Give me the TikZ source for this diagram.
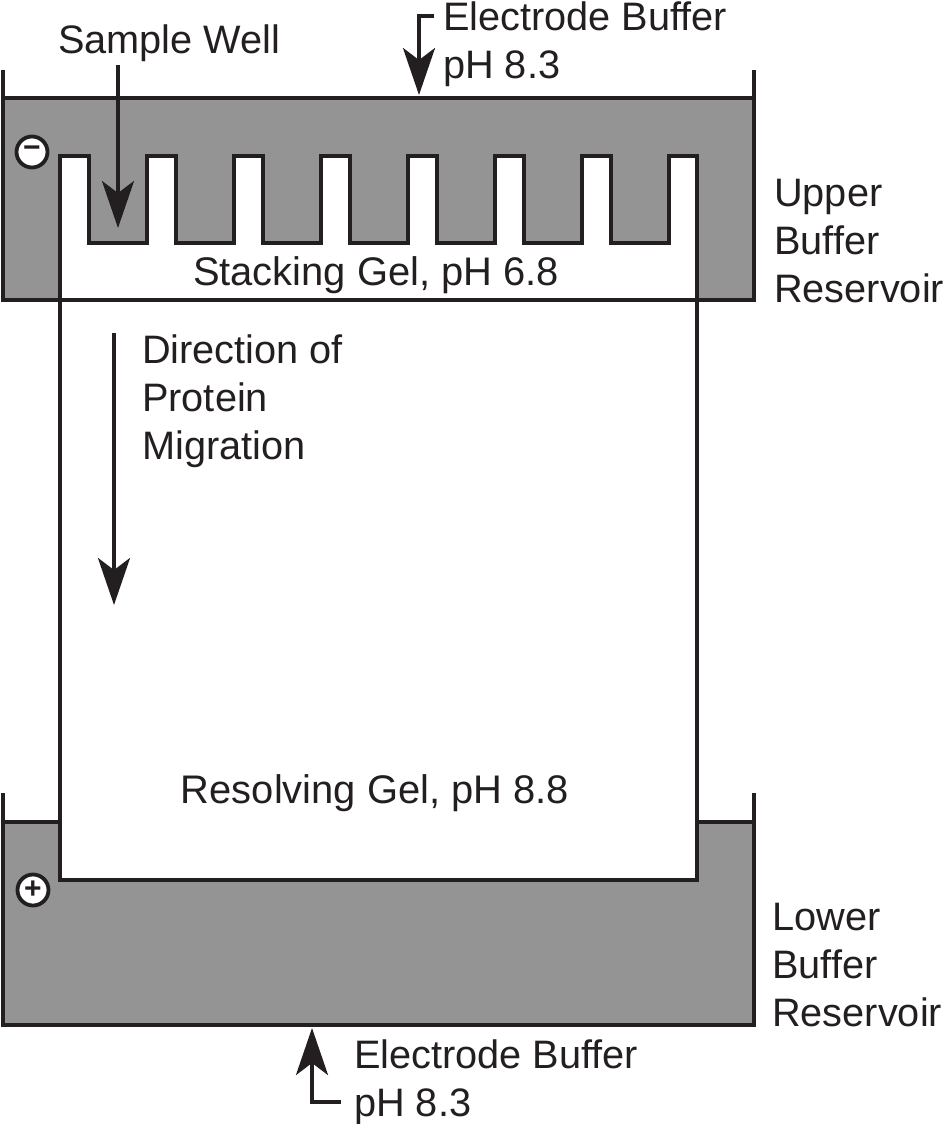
\documentclass[tikz,border=0pt]{standalone}
\usepackage{fontspec}
\setmainfont{Liberation Sans}
\usetikzlibrary{arrows.meta}
\definecolor{ink}{HTML}{231F20}
\definecolor{buffer}{HTML}{949494}
\tikzset{
  wall/.style={draw=ink,line width=4pt,line cap=butt,line join=miter},
  thinwall/.style={draw=ink,line width=3.4pt},
  label/.style={anchor=base west,inner sep=0pt,text=ink,align=left,font=\fontsize{39.7}{48}\selectfont},
  gellabel/.style={anchor=base,inner sep=0pt,text=ink,font=\fontsize{39.9}{48}\selectfont},
  pointer/.style={draw=ink,line width=3.6pt,-{Stealth[length=47pt,width=32pt,inset=12pt]}},
  pole/.style={circle,draw=ink,line width=3.8pt,fill=white,minimum size=31pt,inner sep=0pt,text=ink,font=\fontsize{30}{30}\bfseries\selectfont}
}

\begin{document}
\begin{tikzpicture}[x=1pt,y=-1pt]
\useasboundingbox (0,0) rectangle (944,1124);

% buffer tanks
\draw[wall,fill=buffer] (3,98) rectangle (754,300);
\draw[wall,fill=buffer] (3,822) rectangle (754,1025);
\draw[thinwall] (3,70) -- (3,98);
\draw[thinwall] (754,70) -- (754,98);
\draw[thinwall] (3,793) -- (3,822);
\draw[thinwall] (754,793) -- (754,822);

% gel with its comb of wells
\draw[wall,fill=white] (60,880) -- (60,156)
  \foreach \x in {0,87,174,261,348,435,522} {
    -- (\x+89,156) -- (\x+89,243) -- (\x+147,243) -- (\x+147,156)
  }
  -- (697,156) -- (697,880) -- cycle;
\draw[wall] (3,300) -- (754,300);

\node [pole] (minus) at (32,152) {−};
\node [pole] (plus) at (33,890) {+};

\node [label] (well) at (58,53) {Sample Well};
\node [label] (topbuffer) at (443,78) {Electrode Buffer\\pH 8.3};
\node [label] (upper) at (774,302) {Upper\\Buffer\\Reservoir};
\node [gellabel] (stacking) at (376,285) {Stacking Gel, pH 6.8};
\node [label] (direction) at (142,459) {Direction of\\Protein\\Migration};
\node [gellabel] (resolving) at (375,803) {Resolving Gel, pH 8.8};
\node [label] (lower) at (772,1026) {Lower\\Buffer\\Reservoir};
\node [label] (lowbuffer) at (354,1116) {Electrode Buffer\\pH 8.3};

\coordinate (wellstart) at (118,65);
\coordinate (welltip) at (118,228);
\coordinate (topstart) at (434,16);
\coordinate (topbend) at (419,16);
\coordinate (toptip) at (419,95);
\coordinate (migstart) at (114,333);
\coordinate (migtip) at (114,605);
\coordinate (lowstart) at (341,1102);
\coordinate (lowbend) at (312,1102);
\coordinate (lowtip) at (312,1028);

\draw[pointer] (wellstart) -- (welltip);
\draw[pointer] (topstart) -- (topbend) -- (toptip);
\draw[pointer] (migstart) -- (migtip);
\draw[pointer] (lowstart) -- (lowbend) -- (lowtip);

\end{tikzpicture}
\end{document}
